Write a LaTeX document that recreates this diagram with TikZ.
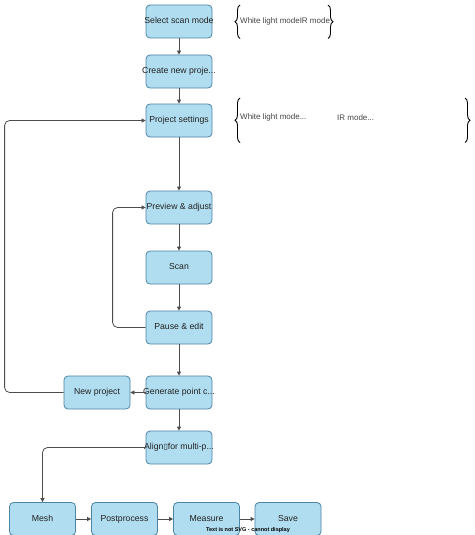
\documentclass[tikz,border=0pt]{standalone}
\usepackage{fontspec}
\setmainfont{Liberation Sans}
\newfontfamily\dejavu{DejaVu Sans}
\usetikzlibrary{arrows.meta,decorations.pathreplacing}
\definecolor{boxfill}{HTML}{B1DDF0}
\definecolor{boxline}{HTML}{4A85A3}
\definecolor{linec}{HTML}{4D4D4D}
\definecolor{textc}{HTML}{222222}
\definecolor{notec}{HTML}{444444}
\newcommand{\bx}[1]{\makebox[60pt][c]{\vphantom{Agj}#1}}
\begin{document}
\begin{tikzpicture}[x=1pt,y=-1pt,
  box/.style={draw=boxline, fill=boxfill, rounded corners=4pt, minimum width=66pt, minimum height=33pt, inner sep=0pt, line width=0.8pt, font=\fontsize{8.7}{10}\selectfont, text=textc},
  conn/.style={draw=linec, line width=0.8pt, -{Triangle[length=4pt,width=4pt]}},
  loopc/.style={conn, rounded corners=5pt},
  bracec/.style={draw=black, line width=0.9pt, decorate, decoration={brace, amplitude=5pt}},
  note/.style={font=\fontsize{8}{10}\selectfont, text=notec, anchor=west, inner sep=0pt}]
\useasboundingbox (0,0) rectangle (474,535);
\fill[white] (0,0) rectangle (474,535);
% main column
\node[box] (sel) at (179,21.5) {\bx{Select scan mode}};
\node[box] (cre) at (179,71.5) {\bx{Create new proje...}};
\node[box] (pro) at (179,120.5) {\bx{Project settings}};
\node[box] (pre) at (179,207.5) {\bx{Preview \& adjust}};
\node[box] (scan) at (179,267.5) {\bx{Scan}};
\node[box] (pau) at (179,327.5) {\bx{Pause \& edit}};
\node[box] (gen) at (179,392.5) {\bx{Generate point c...}};
\node[box] (ali) at (179,447.5) {\bx{Align{\dejavu\fontsize{8}{9}\selectfont ▯}for multi-p...}};
\node[box] (newp) at (97,392.5) {\bx{New project}};
% bottom row
\node[box] (mesh) at (42.5,519) {\bx{Mesh}};
\node[box] (post) at (124.5,519) {\bx{Postprocess}};
\node[box] (meas) at (206.5,519) {\bx{Measure}};
\node[box] (save) at (288,519) {\bx{Save}};
% connectors
\draw[conn] (sel) -- (cre);
\draw[conn] (cre) -- (pro);
\draw[conn] (pro) -- (pre);
\draw[conn] (pre) -- (scan);
\draw[conn] (scan) -- (pau);
\draw[conn] (pau) -- (gen);
\draw[conn] (gen) -- (ali);
\draw[conn] (gen) -- (newp);
\draw[loopc] (pau.west) -- ++(-33,0) |- (pre.west);
\draw[loopc] (newp.west) -- ++(-59,0) |- (pro.west);
\draw[loopc] (ali.west) -| (mesh.north);
\draw[conn] (mesh) -- (post);
\draw[conn] (post) -- (meas);
\draw[conn] (meas) -- (save);
% braces and notes
\draw[bracec] (240,38.5) -- (240,5);
\draw[bracec] (328,5) -- (328,38.5);
\node[note] (n1) at (240,21.5) {White light modeIR mode};
\draw[bracec] (240,142.5) -- (240,98);
\draw[bracec] (465,98) -- (465,142.5);
\node[note] (n2) at (240,117.5) {White light mode...};
\node[note] (n3) at (337,117.5) {IR mode...};
\node[font=\bfseries\fontsize{5.5}{6}\selectfont, text=black, inner sep=0pt] (warn) at (248,530.5) {Text is not SVG - cannot display};
\end{tikzpicture}
\end{document}
